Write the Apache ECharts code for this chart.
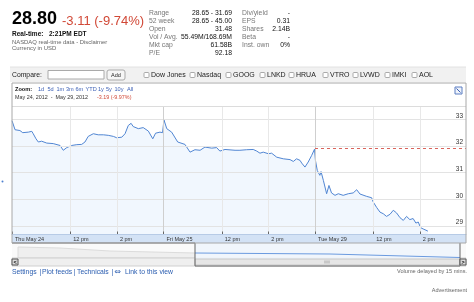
<!DOCTYPE html>
<html><head><meta charset="utf-8">
<script src="https://cdn.jsdelivr.net/npm/echarts@6/dist/echarts.min.js"></script>
<style>html,body{margin:0;padding:0;background:#fff}#c{width:474px;height:302px}</style>
</head><body><div id="c"></div>
<script>
// ---- data ----
const hours = [0.00,0.13,0.20,0.34,0.46,0.51,0.70,0.85,0.91,1.03,1.13,1.27,1.49,1.77,2.06,2.20,2.35,2.56,2.78,2.99,3.13,3.27,3.49,3.70,3.92,4.13,4.35,4.49,4.71,4.85,4.99,5.11,5.20,5.42,5.63,5.85,6.04,6.16,6.35,6.46,
6.52,6.64,6.85,7.11,7.42,7.64,7.85,8.07,8.28,8.57,8.78,8.92,9.14,9.57,9.78,10.07,10.35,10.50,10.64,10.78,11.00,11.14,11.36,11.64,11.93,12.07,12.21,12.36,12.43,12.57,12.71,12.86,12.98,
13.02,13.10,13.21,13.26,13.36,13.43,13.50,13.60,13.71,13.86,14.00,14.21,14.43,14.64,14.79,14.93,15.22,15.43,15.50,15.65,15.79,15.93,16.07,16.22,16.36,16.50,16.65,16.79,16.93,17.07,17.21,17.33,17.43,17.53,17.64,17.82,17.85];
const prices = [32.95,32.61,32.65,32.58,32.50,32.56,32.52,32.55,32.46,32.27,32.15,32.18,32.11,32.09,32.02,31.84,31.94,32.02,32.05,32.06,32.15,32.36,32.46,32.42,32.42,32.40,32.36,32.31,32.33,32.46,32.77,32.85,32.73,32.65,32.69,32.56,32.27,32.48,32.52,32.50,
32.98,32.65,32.52,32.15,32.06,31.77,31.86,31.84,31.96,31.92,31.94,31.81,31.87,31.84,31.84,31.86,31.87,31.81,31.73,31.77,31.71,31.73,31.58,31.52,31.49,31.42,31.52,31.46,31.36,31.21,31.40,31.65,31.88,
31.46,31.08,30.90,31.04,30.71,30.65,30.21,30.52,30.24,30.15,30.21,30.15,30.21,30.24,30.36,30.20,30.11,30.06,29.90,29.69,29.52,29.46,29.36,29.44,29.59,29.49,29.31,29.21,29.36,29.24,29.28,29.11,29.15,28.94,28.89,28.82,28.80];
const prevClose = 31.91;
const prevCloseFrom = 13;
const xTickHours = [0,2.5,4.5,6.5,9,11,13,15.5,17.5];
const xTickLabels = ['Thu May 24','12 pm','2 pm','Fri May 25','12 pm','2 pm','Tue May 29','12 pm','2 pm'];
const dayStarts = [6.5,13];
const yTicks = [29,30,31,32,33];
const lastPrice = '28.80';
const change = '-3.11 (-9.74%)';
const quoteLabels = ['Range','52 week','Open','Vol / Avg.','Mkt cap','P/E'];
const quoteValues = ['28.65 - 31.69','28.65 - 45.00','31.48','55.49M/168.69M','61.58B','92.18'];
const quoteLabels2 = ['Div/yield','EPS','Shares','Beta','Inst. own'];
const quoteValues2 = ['-','0.31','2.14B','-','0%'];
const compareSymbols = ['Dow Jones','Nasdaq','GOOG','LNKD','HRUA','VTRO','LVWD','IMKI','AOL'];
const zoomLinks = ['1d','5d','1m','3m','6m','YTD','1y','5y','10y','All'];
const rangeText = 'May 24, 2012  -  May 29, 2012';
const rangeChange = '-3.19 (-9.97%)';
const footLinks = ['Settings','|','Plot feeds','|','Technicals','|'];

// ---- layout ----
const FF = '"Liberation Sans", Arial, sans-serif';
const cbX = [144,190,226,260,289,323,353,385,412];
const zlX = [38,47.5,56.5,66,75.5,85.5,98,106,114.5,127];
const footX = [12,39.5,42,73.5,77,111.5];
const G = [];
function T(x,y,text,size,color,o){o=o||{};G.push({type:'text',x:x,y:y,z:o.z||20,style:{text:text,font:(o.bold?'bold ':'')+size+'px '+(o.ff||FF),fill:color,align:o.align||'left',verticalAlign:'middle'}});}
function R(x,y,w,h,fill,stroke,o){o=o||{};G.push({type:'rect',z:o.z==null?1:o.z,shape:{x:x,y:y,width:w,height:h,r:o.r||0},style:{fill:fill,stroke:stroke||null,lineWidth:1}});}
function L(pts,stroke,o){o=o||{};G.push({type:'polyline',z:o.z||20,shape:{points:pts},style:{stroke:stroke,fill:null,lineWidth:o.w||1}});}

// header
T(12,19.5,lastPrice,18,'#000',{bold:true});
T(62,21,change,13,'#d14836');
T(12,34.3,'Real-time:',6.5,'#111',{bold:true});
T(49,34.3,'2:21PM EDT',6.5,'#111',{bold:true});
T(12,42.3,'NASDAQ real-time data - Disclaimer',5.9,'#666');
T(12,48.3,'Currency in USD',5.9,'#666');
quoteLabels.forEach((s,i)=>{T(149,13.5+i*8,s,6.8,'#777');T(232,13.5+i*8,quoteValues[i],6.8,'#111',{align:'right'});});
quoteLabels2.forEach((s,i)=>{T(242,13.5+i*8,s,6.8,'#777');T(290,13.5+i*8,quoteValues2[i],6.8,'#111',{align:'right'});});

// compare bar
R(10,67,456,15,'#f1f1f1',null,{z:0});
L([[10,67],[466,67]],'#e2e2e2',{z:1});
T(12,75,'Compare:',6.8,'#222');
R(48,70.5,56,8.5,'#fff','#aaa',{z:2});
R(107,70,18,10,'#f6f6f6','#aaa',{z:2,r:2});
T(116,75,'Add',5.5,'#222',{align:'center'});
compareSymbols.forEach((s,i)=>{R(cbX[i],72.5,5,5,'#fff','#aaa',{z:2,r:1});T(cbX[i]+7,75,s,7,'#222');});

// chart box header
T(15,89,'Zoom:',5.6,'#111',{bold:true});
zoomLinks.forEach((s,i)=>{T(zlX[i],89,s,5.6,'#3b5fb5');});
T(15,97.5,rangeText,5.4,'#333');
T(97,97.5,rangeChange,5.4,'#d14836');
R(455,87,7,7,'#eef3fb','#5d7fc2',{z:3});
L([[456.5,88.5],[460.5,92.5]],'#3b5fb5',{z:4});

// x band
R(12,234,454,9,'#d3e2f5',null,{z:0});

// navigator
R(12,243,454,23,'#fafafa',null,{z:0});
G.push({type:'polygon',z:1,shape:{points:[[18,247],[60,248],[110,251],[195,253],[195,258],[18,258]]},style:{fill:'#efefef',stroke:'#dcdcdc'}});
R(12,258,454,8,'#efefef','#cfcfcf',{z:1});
R(195,243,265,23,'rgba(240,245,252,0.9)',null,{z:2});
L([[195,253],[330,254],[460,257.5]],'#6b9be0',{z:3});
R(195,259,265,6,'#e6e6e6','#c8c8c8',{z:3});
L([[325,260.5],[325,263.5]],'#aaa',{z:4});L([[327,260.5],[327,263.5]],'#aaa',{z:4});L([[329,260.5],[329,263.5]],'#aaa',{z:4});
L([[12,243],[195,243],[195,266],[460,266],[460,243]],'#666',{z:5});
R(12,259,6,6,'#ddd','#555',{z:5});T(15,262,'<',5.5,'#000',{align:'center',bold:true});
R(460,259,6,6,'#ddd','#555',{z:5});T(463,262,'>',5.5,'#000',{align:'center',bold:true});

// chart box border
R(12,83,454,160,null,'#a8a8a8',{z:30});

// footer
footLinks.forEach((s,i)=>{T(footX[i],271.7,s,6.8,'#2a5db0');});
T(114.5,271.7,'\u21d4',8,'#2a5db0',{ff:'"DejaVu Sans", sans-serif'});
T(125,271.7,'Link to this view',6.8,'#2a5db0');
T(467,271.7,'Volume delayed by 15 mins.',5.6,'#666',{align:'right'});
T(467,290,'Advertisement',5.5,'#666',{align:'right'});
G.push({type:'circle',z:5,shape:{cx:2.5,cy:181.5,r:1},style:{fill:'#4d7fcf'}});

// ---- chart ----
const gridMarks = [];
yTicks.forEach(v=>gridMarks.push({yAxis:v,lineStyle:{color:'#e3e3e3',width:1,type:'solid'}}));
xTickHours.slice(1).forEach(v=>gridMarks.push({xAxis:v,lineStyle:{color:dayStarts.indexOf(v)>=0?'#cfcfcf':'#e8e8e8',width:1,type:'solid'}}));
gridMarks.push({yAxis:33.5,lineStyle:{color:'#dcdcdc',width:1,type:'solid'}});

const chart = echarts.init(document.getElementById('c'),null,{renderer:'canvas'});
chart.setOption({
  animation:false,
  backgroundColor:'#fff',
  grid:{left:12,width:454,top:106,height:128},
  xAxis:{type:'value',min:0,max:19.48,z:5,
    axisLine:{show:true,lineStyle:{color:'#b7cbe6'}},
    axisTick:{show:true,inside:true,length:2.5,customValues:xTickHours,lineStyle:{color:'#666'}},
    axisLabel:{customValues:xTickHours,formatter:v=>{const i=xTickHours.indexOf(v);return i>=0?xTickLabels[i]:'';},
      align:'left',padding:[0,0,0,3],fontSize:5.5,color:'#333',fontFamily:FF,margin:2.5},
    splitLine:{show:false}},
  yAxis:{type:'value',position:'right',min:28.7,max:33.5,
    axisLine:{show:false},axisTick:{show:false},splitLine:{show:false},
    axisLabel:{inside:true,customValues:yTicks,fontSize:6.5,color:'#333',fontFamily:FF,verticalAlign:'bottom',margin:3}},
  series:[
    {type:'line',data:[],z:1,silent:true,
      markLine:{silent:true,symbol:'none',label:{show:false},data:gridMarks}},
    {type:'line',z:3,data:hours.map((h,i)=>[h,prices[i]]),showSymbol:false,
      lineStyle:{color:'#5186d3',width:1},
      areaStyle:{color:'rgba(210,230,251,0.45)',origin:'start'},
      markLine:{silent:true,symbol:'none',label:{show:false},
        data:[[{coord:[prevCloseFrom,prevClose]},{coord:[19.48,prevClose]}]],
        lineStyle:{color:'#d9635b',type:[3,3],width:1}}}
  ],
  graphic:G
});
</script></body></html>
